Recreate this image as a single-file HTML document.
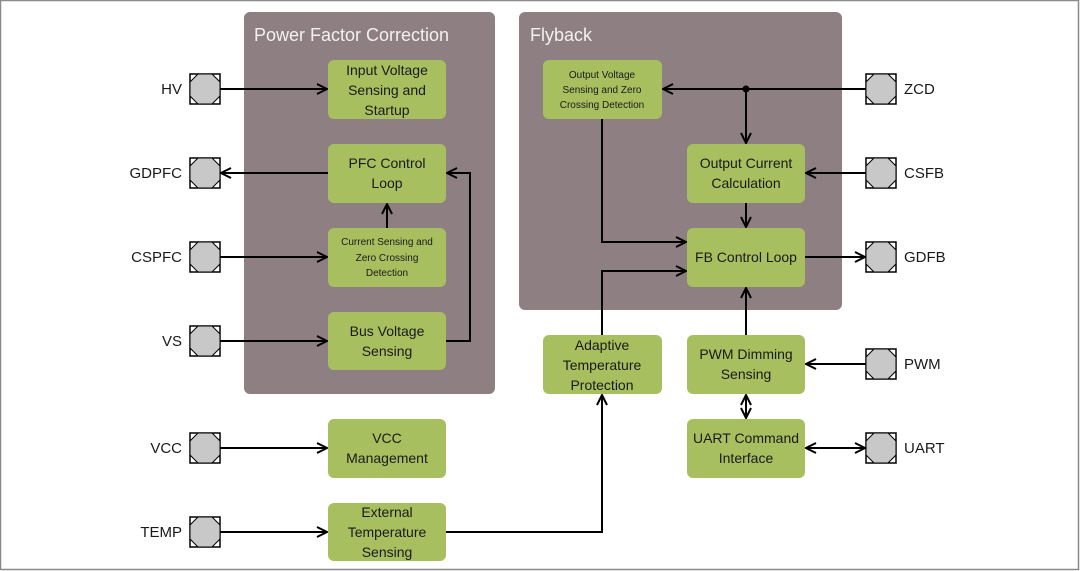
<!DOCTYPE html>
<html><head><meta charset="utf-8"><style>
html,body{margin:0;padding:0;background:#fff}
svg{display:block}
text{font-family:"Liberation Sans",sans-serif;fill:#1a1a1a}
.b{font-size:14px;text-anchor:middle}
.s{font-size:10px;text-anchor:middle}
.l{font-size:15px}
.t{font-size:18px;fill:#f4f0f0}
.ln{stroke:#000;stroke-width:2;fill:none}
</style></head><body>
<svg width="1080" height="571" viewBox="0 0 1080 571" xmlns="http://www.w3.org/2000/svg">
<defs>
<marker id="a" viewBox="0 0 12 12" refX="11" refY="6" markerWidth="12" markerHeight="12" markerUnits="userSpaceOnUse" orient="auto-start-reverse">
<path d="M1,1 L11,6 L1,11" fill="none" stroke="#000" stroke-width="2"/>
</marker>
<g id="pin">
<rect x="0" y="0" width="30" height="30" fill="#fff" stroke="#000" stroke-width="1.5"/>
<polygon points="8,0 22,0 30,8 30,22 22,30 8,30 0,22 0,8" fill="#c8c8c8" stroke="#000" stroke-width="1"/>
</g>
</defs>
<rect x="0.5" y="0.5" width="1078" height="569" fill="#fff" stroke="#8a8a8a" stroke-width="1.5"/>
<rect x="244" y="12" width="251" height="382" rx="6" fill="#8e7f82"/>
<rect x="519" y="12" width="323" height="298" rx="6" fill="#8e7f82"/>
<text class="t" x="254" y="41">Power Factor Correction</text>
<text class="t" x="530" y="41">Flyback</text>

<g fill="#a7bf5f">
<rect x="328" y="60" width="118" height="59" rx="6"/>
<rect x="328" y="144" width="118" height="59" rx="6"/>
<rect x="328" y="228" width="118" height="59" rx="6"/>
<rect x="328" y="312" width="118" height="58" rx="6"/>
<rect x="328" y="419" width="118" height="59" rx="6"/>
<rect x="328" y="503" width="118" height="58" rx="6"/>
<rect x="543" y="60" width="119" height="59" rx="6"/>
<rect x="687" y="144" width="118" height="59" rx="6"/>
<rect x="687" y="228" width="118" height="59" rx="6"/>
<rect x="543" y="335" width="119" height="59" rx="6"/>
<rect x="687" y="335" width="118" height="59" rx="6"/>
<rect x="687" y="419" width="118" height="59" rx="6"/>
</g>

<text class="b" x="387" y="75">Input Voltage</text>
<text class="b" x="387" y="95">Sensing and</text>
<text class="b" x="387" y="115">Startup</text>
<text class="b" x="387" y="168">PFC Control</text>
<text class="b" x="387" y="188">Loop</text>
<text class="s" x="387" y="245">Current Sensing and</text>
<text class="s" x="387" y="261">Zero Crossing</text>
<text class="s" x="387" y="276">Detection</text>
<text class="b" x="387" y="336">Bus Voltage</text>
<text class="b" x="387" y="356">Sensing</text>
<text class="b" x="387" y="443">VCC</text>
<text class="b" x="387" y="463">Management</text>
<text class="b" x="387" y="517">External</text>
<text class="b" x="387" y="537">Temperature</text>
<text class="b" x="387" y="557">Sensing</text>
<text class="s" x="602" y="78">Output Voltage</text>
<text class="s" x="602" y="93">Sensing and Zero</text>
<text class="s" x="602" y="108">Crossing Detection</text>
<text class="b" x="746" y="168">Output Current</text>
<text class="b" x="746" y="188">Calculation</text>
<text class="b" x="746" y="262">FB Control Loop</text>
<text class="b" x="602" y="350">Adaptive</text>
<text class="b" x="602" y="370">Temperature</text>
<text class="b" x="602" y="390">Protection</text>
<text class="b" x="746" y="359">PWM Dimming</text>
<text class="b" x="746" y="379">Sensing</text>
<text class="b" x="746" y="443">UART Command</text>
<text class="b" x="746" y="463">Interface</text>

<text class="l" x="182" y="94" text-anchor="end">HV</text>
<text class="l" x="182" y="178" text-anchor="end">GDPFC</text>
<text class="l" x="182" y="262" text-anchor="end">CSPFC</text>
<text class="l" x="182" y="346" text-anchor="end">VS</text>
<text class="l" x="182" y="453" text-anchor="end">VCC</text>
<text class="l" x="182" y="537" text-anchor="end">TEMP</text>
<text class="l" x="904" y="94">ZCD</text>
<text class="l" x="904" y="178">CSFB</text>
<text class="l" x="904" y="262">GDFB</text>
<text class="l" x="904" y="369">PWM</text>
<text class="l" x="904" y="453">UART</text>

<g class="ln">
<path d="M220,89 H327" marker-end="url(#a)"/>
<path d="M328,173 H221" marker-end="url(#a)"/>
<path d="M220,257 H327" marker-end="url(#a)"/>
<path d="M220,341 H327" marker-end="url(#a)"/>
<path d="M387,228 V204" marker-end="url(#a)"/>
<path d="M446,341 H470 V173 H447" marker-end="url(#a)"/>
<path d="M220,448 H327" marker-end="url(#a)"/>
<path d="M220,532 H327" marker-end="url(#a)"/>
<path d="M446,532 H602 V395" marker-end="url(#a)"/>
<path d="M602,335 V271 H686" marker-end="url(#a)"/>
<path d="M602,119 V242 H686" marker-end="url(#a)"/>
<path d="M866,89 H663" marker-end="url(#a)"/>
<path d="M746,89 V143" marker-end="url(#a)"/>
<path d="M746,203 V227" marker-end="url(#a)"/>
<path d="M866,173 H806" marker-end="url(#a)"/>
<path d="M805,257 H865" marker-end="url(#a)"/>
<path d="M746,335 V288" marker-end="url(#a)"/>
<path d="M866,364 H806" marker-end="url(#a)"/>
<path d="M746,395 V418" marker-start="url(#a)" marker-end="url(#a)"/>
<path d="M806,448 H865" marker-start="url(#a)" marker-end="url(#a)"/>
</g>
<circle cx="746" cy="89" r="3.5" fill="#000"/>

<use href="#pin" x="190" y="74"/>
<use href="#pin" x="190" y="158"/>
<use href="#pin" x="190" y="242"/>
<use href="#pin" x="190" y="326"/>
<use href="#pin" x="190" y="433"/>
<use href="#pin" x="190" y="517"/>
<use href="#pin" x="866" y="74"/>
<use href="#pin" x="866" y="158"/>
<use href="#pin" x="866" y="242"/>
<use href="#pin" x="866" y="349"/>
<use href="#pin" x="866" y="433"/>
</svg>
</body></html>
